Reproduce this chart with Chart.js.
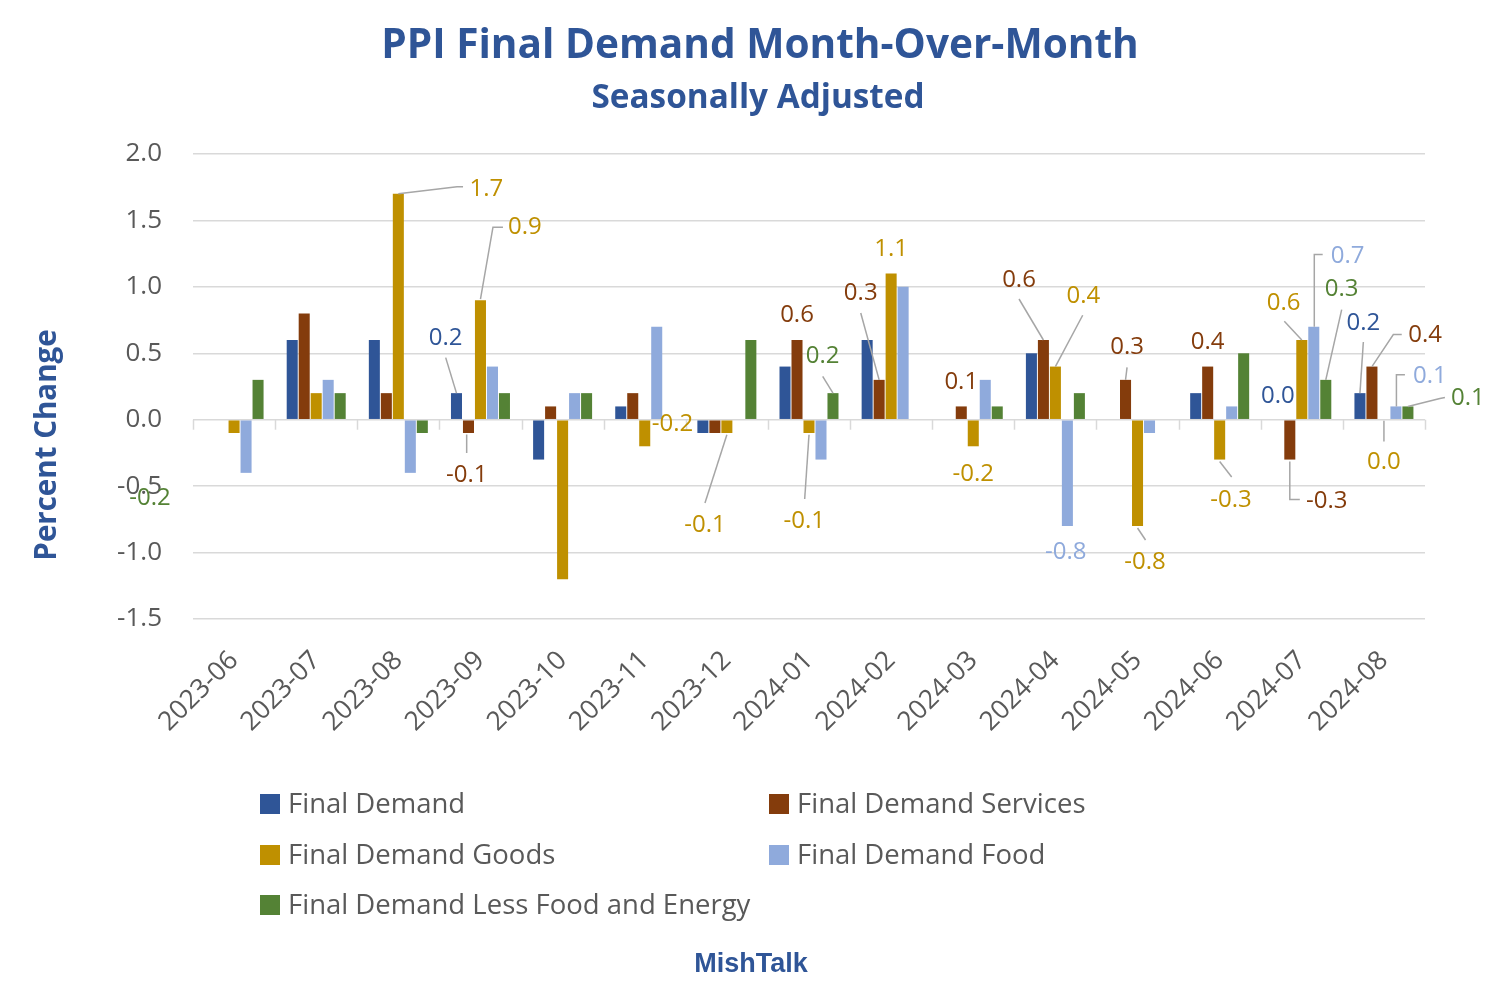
<!DOCTYPE html>
<html>
<head>
<meta charset="utf-8">
<script src="https://cdn.jsdelivr.net/npm/chart.js@4/dist/chart.umd.min.js"></script>
<style>
  html, body { margin: 0; padding: 0; background: #ffffff; }
  #wrap { position: relative; width: 1505px; height: 1000px; }
</style>
</head>
<body>
<div id="wrap"><canvas id="c" width="1505" height="1000"></canvas></div>
<script>
// ---------- DATA ----------
const categories = ["2023-06","2023-07","2023-08","2023-09","2023-10","2023-11","2023-12",
                    "2024-01","2024-02","2024-03","2024-04","2024-05","2024-06","2024-07","2024-08"];
const seriesNames = ["Final Demand","Final Demand Services","Final Demand Goods","Final Demand Food","Final Demand Less Food and Energy"];
const finalDemand = [0.0, 0.6, 0.6, 0.2, -0.3, 0.1, -0.1, 0.4, 0.6, 0.0, 0.5, 0.0, 0.2, 0.0, 0.2];
const services    = [0.0, 0.8, 0.2, -0.1, 0.1, 0.2, -0.1, 0.6, 0.3, 0.1, 0.6, 0.3, 0.4, -0.3, 0.4];
const goods       = [-0.1, 0.2, 1.7, 0.9, -1.2, -0.2, -0.1, -0.1, 1.1, -0.2, 0.4, -0.8, -0.3, 0.6, 0.0];
const food        = [-0.4, 0.3, -0.4, 0.4, 0.2, 0.7, 0.0, -0.3, 1.0, 0.3, -0.8, -0.1, 0.1, 0.7, 0.1];
const lessFoodEnergy = [0.3, 0.2, -0.1, 0.2, 0.2, 0.0, 0.6, 0.2, 0.0, 0.1, 0.2, 0.0, 0.5, 0.3, 0.1];
const yTicks = [-1.5, -1.0, -0.5, 0.0, 0.5, 1.0, 1.5, 2.0];

// data labels as shown in the picture: month index, series index, text
const labelTexts = [
  [0,4,"-0.2"],[2,2,"1.7"],[3,2,"0.9"],[3,0,"0.2"],[3,1,"-0.1"],[5,2,"-0.2"],[6,2,"-0.1"],
  [7,1,"0.6"],[7,4,"0.2"],[7,2,"-0.1"],[8,1,"0.3"],[8,2,"1.1"],[9,1,"0.1"],[9,2,"-0.2"],
  [10,1,"0.6"],[10,2,"0.4"],[10,3,"-0.8"],[11,1,"0.3"],[11,2,"-0.8"],[12,1,"0.4"],[12,2,"-0.3"],
  [13,0,"0.0"],[13,1,"-0.3"],[13,2,"0.6"],[13,3,"0.7"],[13,4,"0.3"],
  [14,0,"0.2"],[14,1,"0.4"],[14,2,"0.0"],[14,3,"0.1"],[14,4,"0.1"]
];

// ---------- STYLE / LAYOUT ----------
const colors = ["#2F5597","#843C0C","#BF9000","#8FAADC","#548235"];
const FONT = "'Open Sans', 'DejaVu Sans', sans-serif";
// label placement offsets (px) from bar end, and leader polylines (px offsets from bar end)
const labelLayout = [
  {dx:-108, dy:118},
  {dx:88, dy:-5, lead:[[0,0],[58.7,-7],[64.7,-7]]},
  {dx:44.5, dy:-72.7, lead:[[0,-1],[12.5,-73],[22.5,-73]]},
  {dx:-10.8, dy:-54.5, lead:[[0,0],[-10.8,-35.5]]},
  {dx:-1.8, dy:41.7, lead:[[-1.8,1.5],[-1.8,20]]},
  {dx:27.8, dy:-22.5},
  {dx:-21.9, dy:91.7, lead:[[0,1.7],[-21.9,70]]},
  {dx:0, dy:-24.7},
  {dx:-10.3, dy:-36.8, lead:[[0,0],[-10.3,-16.8]]},
  {dx:-4.7, dy:88.4, lead:[[0,1.7],[-4.3,66]]},
  {dx:-18.4, dy:-86.9, lead:[[0,0],[-18.4,-66.9]]},
  {dx:0, dy:-24},
  {dx:0, dy:-24.4},
  {dx:0, dy:27.8},
  {dx:-24.4, dy:-59.7, lead:[[0,0],[-24.4,-41]]},
  {dx:27.9, dy:-70.3, lead:[[0,0],[27.3,-51.3]]},
  {dx:-1.7, dy:26.6},
  {dx:1.5, dy:-32.9, lead:[[0,0],[1.5,-12.5]]},
  {dx:7.5, dy:36.6, lead:[[0,2],[8,14]]},
  {dx:0, dy:-24.3},
  {dx:11.3, dy:40.2, lead:[[0,2],[12,17.5]]},
  {dx:0, dy:-24},
  {dx:36.9, dy:41.2, lead:[[0,2],[0,40],[10,40]]},
  {dx:-18.1, dy:-37.1, lead:[[0,0],[-17.5,-18.7]]},
  {dx:33.9, dy:-70.5, lead:[[0.5,0],[0.5,-72.2],[8.9,-72.2]]},
  {dx:15.9, dy:-90.9, lead:[[0,0],[15.9,-70.2]]},
  {dx:3.4, dy:-70.2, lead:[[0,0],[3.4,-51.2]]},
  {dx:53.1, dy:-31, lead:[[0,0],[21.4,-32],[29.8,-32]]},
  {dx:0, dy:42.7, lead:[[0,1],[0,21.7]]},
  {dx:34, dy:-30.7, lead:[[0.5,0],[0.5,-31.7],[9,-31.7]]},
  {dx:60, dy:-8.7, lead:[[0,0],[32,-8],[37,-9]]}
];

const seriesData = [finalDemand, services, goods, food, lessFoodEnergy];

const decorPlugin = {
  id: 'decor',
  beforeDatasetsDraw(chart) {
    const ctx = chart.ctx, x = chart.scales.x, y = chart.scales.y;
    const y0 = y.getPixelForValue(0);
    ctx.save();
    ctx.strokeStyle = '#D9D9D9';
    ctx.lineWidth = 1.5;
    for (let i = 0; i <= categories.length; i++) {
      const px = Math.round(x.getPixelForValue(i - 0.5)) + 0.5;
      ctx.beginPath();
      ctx.moveTo(px, y0);
      ctx.lineTo(px, y0 + 10);
      ctx.stroke();
    }
    ctx.restore();
  },
  afterDraw(chart) {
    const ctx = chart.ctx;
    ctx.save();
    // titles
    ctx.fillStyle = '#2F5597';
    ctx.textAlign = 'center';
    ctx.textBaseline = 'middle';
    ctx.font = "bold 40.6px " + FONT;
    ctx.fillText("PPI Final Demand Month-Over-Month", 760, 46);
    ctx.font = "bold 33.3px " + FONT;
    ctx.fillText("Seasonally Adjusted", 758, 99);
    // y title
    ctx.save();
    ctx.translate(48, 445);
    ctx.rotate(-Math.PI / 2);
    ctx.font = "bold 29.5px " + FONT;
    ctx.fillText("Percent Change", 0, 0);
    ctx.restore();
    // data labels
    labelTexts.forEach((lt, k) => {
      const [m, s, txt] = lt;
      const lay = labelLayout[k];
      const el = chart.getDatasetMeta(s).data[m];
      const bx = el.x, by = el.y;
      if (lay.lead) {
        ctx.strokeStyle = '#A6A6A6';
        ctx.lineWidth = 1.5;
        ctx.beginPath();
        lay.lead.forEach((p, j) => {
          if (j === 0) ctx.moveTo(bx + p[0], by + p[1]);
          else ctx.lineTo(bx + p[0], by + p[1]);
        });
        ctx.stroke();
      }
      ctx.fillStyle = colors[s];
      ctx.font = "24px " + FONT;
      ctx.textAlign = 'center';
      ctx.textBaseline = 'middle';
      ctx.fillText(txt, bx + lay.dx, by + lay.dy);
    });
    // legend
    const legendPos = [[260,804],[769,804],[260,855],[769,855],[260,905]];
    ctx.font = "27.5px " + FONT;
    ctx.textAlign = 'left';
    ctx.textBaseline = 'middle';
    seriesNames.forEach((n, i) => {
      const [lx, ly] = legendPos[i];
      ctx.fillStyle = colors[i];
      ctx.fillRect(lx, ly - 10, 20, 20);
      ctx.fillStyle = '#595959';
      ctx.fillText(n, lx + 28, ly + 1);
    });
    // footer
    ctx.fillStyle = '#2F5597';
    ctx.textAlign = 'center';
    ctx.font = "bold 27px 'Liberation Sans', Arial, sans-serif";
    ctx.fillText("MishTalk", 751, 965);
    ctx.restore();
  }
};

new Chart(document.getElementById('c'), {
  type: 'bar',
  data: {
    labels: categories,
    datasets: seriesNames.map((n, i) => ({
      label: n,
      data: seriesData[i],
      backgroundColor: colors[i],
      borderWidth: 0,
      categoryPercentage: 0.73,
      barPercentage: 0.92
    }))
  },
  options: {
    responsive: false,
    animation: false,
    devicePixelRatio: 1,
    layout: { padding: { top: 154, right: 80, bottom: 261, left: 0 } },
    plugins: {
      legend: { display: false },
      title: { display: false },
      tooltip: { enabled: false }
    },
    scales: {
      x: {
        grid: { display: false },
        border: { display: false },
        ticks: {
          autoSkip: false, maxRotation: 45, minRotation: 45,
          color: '#595959', font: { family: FONT, size: 26.5 }, padding: 18
        },
        afterFit(scale) { scale.height = 120; }
      },
      y: {
        min: -1.5, max: 2.0,
        afterBuildTicks(scale) { scale.ticks = yTicks.map(v => ({ value: v })); },
        grid: { color: '#D9D9D9', lineWidth: 1.5, drawTicks: false },
        border: { display: false },
        ticks: {
          color: '#595959', font: { family: FONT, size: 26 }, padding: 31,
          callback: v => Number(v).toFixed(1)
        },
        afterFit(scale) { scale.width = 193; }
      }
    }
  },
  plugins: [decorPlugin]
});
</script>
</body>
</html>
